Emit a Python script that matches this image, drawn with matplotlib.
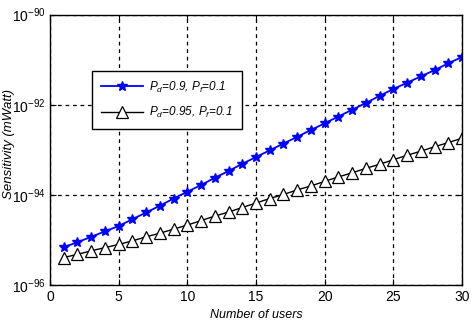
import matplotlib
matplotlib.use("Agg")
import matplotlib.pyplot as plt
import numpy as np

plt.rcParams['font.family'] = 'Liberation Sans'
plt.rcParams['mathtext.fontset'] = 'custom'
plt.rcParams['mathtext.rm'] = 'Liberation Sans'
plt.rcParams['mathtext.it'] = 'Liberation Sans:italic'

# ---------------------------------------------------------
# DATA (exponents)
# ---------------------------------------------------------
users = list(range(1, 31))

exp_pd09 = [-95.16, -95.05, -94.93, -94.81, -94.69, -94.54, -94.39, -94.24, -94.08, -93.93,
            -93.78, -93.62, -93.47, -93.31, -93.16, -93.01, -92.86, -92.71, -92.56, -92.41,
            -92.26, -92.11, -91.96, -91.80, -91.65, -91.51, -91.37, -91.23, -91.08, -90.94]

exp_pd095 = [-95.39, -95.32, -95.24, -95.17, -95.10, -95.02, -94.93, -94.85, -94.76, -94.67,
             -94.57, -94.47, -94.38, -94.28, -94.18, -94.08, -93.99, -93.89, -93.80, -93.70,
             -93.60, -93.51, -93.41, -93.32, -93.22, -93.12, -93.03, -92.93, -92.84, -92.74]

sens_pd09 = 10.0 ** np.array(exp_pd09)
sens_pd095 = 10.0 ** np.array(exp_pd095)

labels = [r'$P_d$=0.9, $P_f$=0.1', r'$P_d$=0.95, $P_f$=0.1']
xticks = [0, 5, 10, 15, 20, 25, 30]
yticks = [1e-96, 1e-94, 1e-92, 1e-90]

# ---------------------------------------------------------
# PLOT
# ---------------------------------------------------------
fig = plt.figure(figsize=(4.74, 3.23), dpi=100)
ax = fig.add_axes([0.1055, 0.1176, 0.8692, 0.8369])

ax.semilogy(users, sens_pd09, color='blue', marker='*', markersize=7,
            linewidth=1.3, label=labels[0])
ax.semilogy(users, sens_pd095, color='black', marker='^', markersize=8,
            markerfacecolor='white', markeredgecolor='black', markeredgewidth=0.9,
            linewidth=1.0, label=labels[1])

ax.set_xlim(0, 30)
ax.set_ylim(1e-96, 1e-90)
ax.set_xticks(xticks)
ax.set_yticks(yticks)
ax.yaxis.set_minor_locator(matplotlib.ticker.NullLocator())
ax.yaxis.set_major_formatter(matplotlib.ticker.FuncFormatter(
    lambda v, p: r'10$^{\mathregular{%d}}$' % round(np.log10(v))))
ax.tick_params(direction='in', labelsize=10, length=4, top=True, right=True)
ax.tick_params(axis='y', pad=3)

ax.grid(True, color='black', linestyle=(0, (3, 3)), linewidth=0.9)
for s in ax.spines.values():
    s.set_linewidth(1.0)

ax.set_xlabel("Number of users", fontsize=9, style='italic', labelpad=4)
ax.set_ylabel("Sensitivity (mWatt)", fontsize=9.5, style='italic')
ax.yaxis.set_label_coords(-0.084, 0.52)

leg = ax.legend(loc='upper left', bbox_to_anchor=(0.102, 0.793), borderaxespad=0,
                fancybox=False, edgecolor='black', framealpha=1,
                prop={'size': 8.5, 'style': 'italic'}, handlelength=3.6,
                handletextpad=0.5, borderpad=0.75, labelspacing=0.9)
leg.get_frame().set_linewidth(1.0)

fig.savefig("out.png", dpi=100)
